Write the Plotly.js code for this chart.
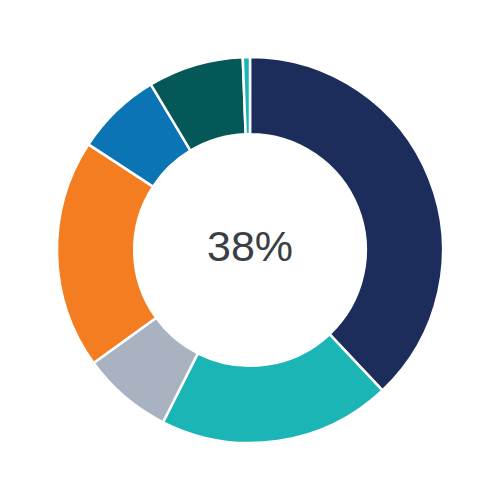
<!DOCTYPE html>
<html>
<head>
<meta charset="utf-8">
<script src="https://cdn.plot.ly/plotly-3.0.1.min.js"></script>
<style>html,body{margin:0;padding:0;background:#fff;}#chart{width:500px;height:500px;}</style>
</head>
<body>
<div id="chart"></div>
<script>
var categories = ["A", "B", "C", "D", "E", "F", "G"];
var values = [38, 19.5, 7.6, 19.2, 7.2, 8.0, 0.6];
var colors = ["#1c2c5b", "#1bb5b5", "#a8b2c0", "#f37d20", "#0a74b5", "#045958", "#1bb5b5"];
var centerLabel = "38%";

Plotly.newPlot("chart", [{
  type: "pie",
  labels: categories,
  values: values,
  hole: 0.6,
  sort: false,
  direction: "clockwise",
  rotation: 0,
  textinfo: "none",
  hoverinfo: "none",
  marker: {colors: colors, line: {color: "#ffffff", width: 2.5}}
}], {
  width: 500,
  height: 500,
  margin: {l: 57, r: 57, t: 57, b: 57},
  showlegend: false,
  paper_bgcolor: "#ffffff",
  annotations: [{
    text: centerLabel,
    x: 0.5, y: 0.5, xref: "paper", yref: "paper",
    xanchor: "center", yanchor: "middle",
    yshift: 4,
    showarrow: false,
    font: {family: "Liberation Sans, Arial, sans-serif", size: 43, color: "#3b3f45"}
  }]
}, {displayModeBar: false, staticPlot: true});
</script>
</body>
</html>
